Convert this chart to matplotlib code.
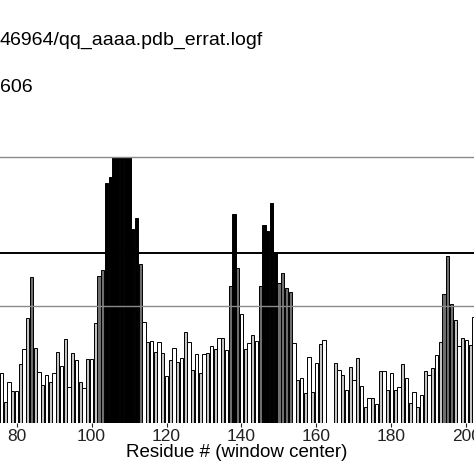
import matplotlib
matplotlib.use("Agg")
import matplotlib.pyplot as plt

residues = list(range(76, 203))
errors = [5.1, 2.2, 4.2, 3.3, 3.3, 6.1, 7.6, 10.8, 15.0, 7.7,
          5.2, 3.9, 4.9, 4.2, 5.1, 7.3, 5.9, 8.6, 3.7, 7.2,
          6.5, 4.2, 3.6, 6.6, 6.6, 10.3, 15.1, 15.7, 24.6, 25.2,
          30, 30, 30, 30, 30, 19.9, 21.0, 16.3, 10.4, 8.3,
          8.4, 7.3, 8.3, 7.2, 4.8, 6.5, 7.7, 6.3, 6.7, 9.3,
          8.3, 5.4, 7.1, 5.1, 7.1, 7.2, 7.9, 7.6, 8.7, 8.7,
          7.5, 14.1, 21.5, 15.9, 11.2, 7.6, 8.2, 9.0, 8.4, 14.1,
          20.3, 19.7, 22.6, 17.5, 14.4, 15.4, 13.9, 13.4, 8.2, 4.4,
          4.6, 3.1, 6.8, 3.2, 6.2, 8.1, 8.5, 0, 0, 6.2,
          5.4, 4.9, 3.4, 5.7, 4.4, 6.7, 3.8, 1.6, 2.6, 2.6,
          1.9, 5.3, 5.3, 3.4, 5.1, 3.4, 3.7, 6.1, 4.6, 2.1,
          3.2, 1.6, 2.9, 5.3, 4.9, 5.6, 7.0, 8.3, 13.2, 17.1,
          12.2, 10.6, 7.9, 8.7, 8.5, 8.0, 10.9]
limit95 = 11.99
limit99 = 17.44
xticks = [80, 100, 120, 140, 160, 180, 200]
title_text = "46964/qq_aaaa.pdb_errat.logf"
quality_text = "606"

plt.rcParams['font.family'] = ['Liberation Sans', 'DejaVu Sans']
fig = plt.figure(figsize=(4.74, 4.74), dpi=100)
ax = fig.add_axes([0, 51/474, 1, 266/474])

colors = []
for i, v in enumerate(errors):
    if v > limit99:
        colors.append('black')
    elif v > limit95:
        colors.append('#6e6e6e')
    else:
        colors.append('white' if i % 2 == 0 else '#c4c4c4')
ax.bar(residues, errors, width=0.85, color=colors, edgecolor='black', linewidth=0.7)
ax.axhline(limit99, color='black', lw=1.4)
ax.axhline(limit95, color='#8a8a8a', lw=1.0)
ax.set_xlim(75.6, 202.0)
ax.set_ylim(0, 27.3)
for s in ['left', 'right', 'bottom']:
    ax.spines[s].set_visible(False)
ax.spines['top'].set_color('#8a8a8a')
ax.spines['top'].set_linewidth(1.0)
ax.set_yticks([])
ax.set_xticks(xticks)
ax.tick_params(axis='x', direction='out', length=3, labelsize=12.5, colors='#222222', pad=1)
ax.set_xlabel("Residue # (window center)", fontsize=13.5, labelpad=0)

fig.text(0.0, 1 - 40/474, title_text, fontsize=14, va='center', ha='left')
fig.text(0.0, 1 - 87/474, quality_text, fontsize=14, va='center', ha='left')
fig.savefig("out.png", dpi=100)
